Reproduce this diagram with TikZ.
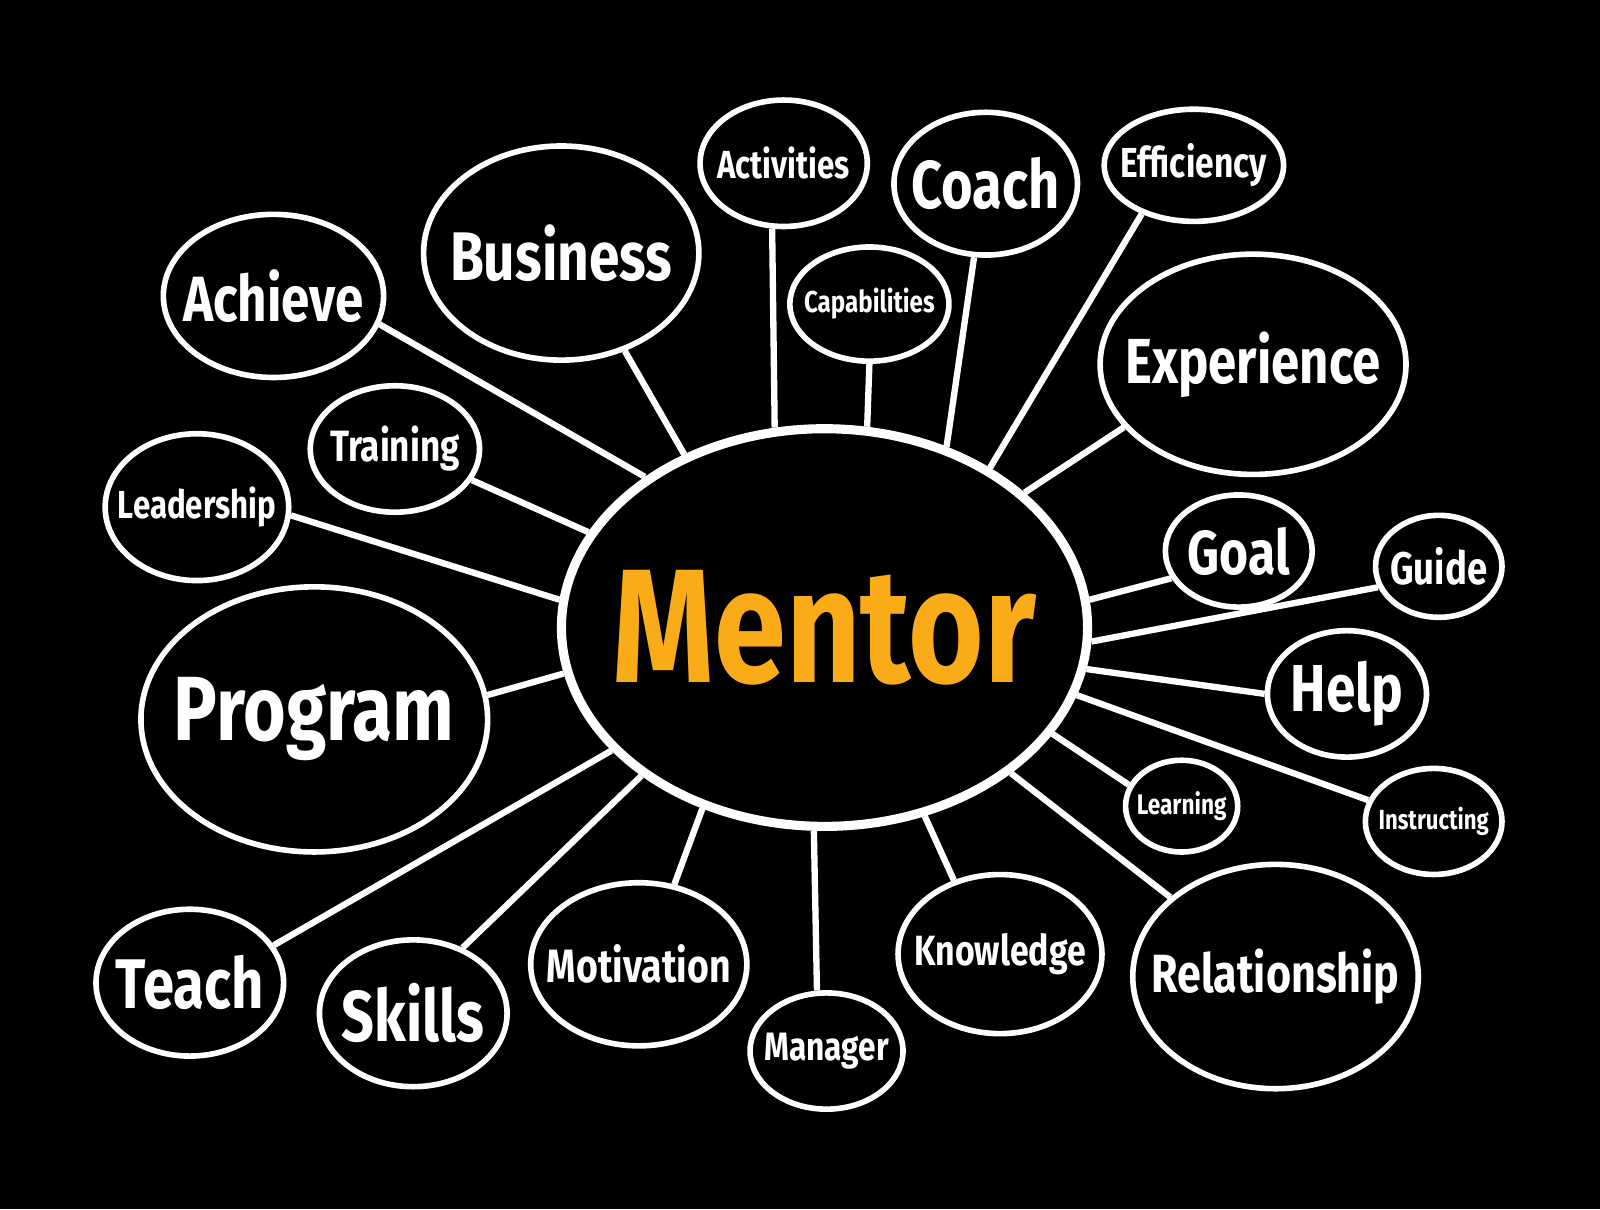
\documentclass[tikz,border=0pt]{standalone}
\usepackage{graphicx}
\usepackage{fontspec}
\setmainfont{Fira Sans}[FakeStretch=0.8]
\usetikzlibrary{shapes.geometric}
\newdimen\unitpx \unitpx=0.010204cm
\newcommand\mmtext[2]{\resizebox{#1\unitpx}{!}{#2}}
\definecolor{mentorc}{RGB}{250,172,24}
\begin{document}
\begin{tikzpicture}[x=0.010204cm, y=-0.010204cm,
  bub/.style n args={2}{ellipse, draw=white, line width=1.6pt,
    minimum width=#1*0.020408cm, minimum height=#2*0.020408cm,
    inner sep=0pt},
  lbl/.style={text=white, font=\bfseries, inner sep=0pt},
  link/.style={draw=white, line width=1.8pt}]
\fill[black] (0,0) rectangle (1568,1185);
\useasboundingbox (0,0) rectangle (1568,1185);

\node[bub={258}{195}, line width=2.6pt, label={[lbl, text=mentorc]center:\mmtext{415}{Mentor}}] (mentor) at (808,615) {};

\node[bub={108}{80}, label={[lbl]center:\mmtext{177}{Achieve}}] (achieve) at (268,290) {};
\node[bub={135}{105}, label={[lbl]center:\mmtext{218}{Business}}] (business) at (550,248) {};
\node[bub={82}{62}, label={[lbl]center:\mmtext{130}{Activities}}] (activities) at (768,160) {};
\node[bub={90}{70}, label={[lbl]center:\mmtext{145}{Coach}}] (coach) at (966,180) {};
\node[bub={88}{55}, label={[lbl]center:\mmtext{143}{Efficiency}}] (efficiency) at (1170,162) {};
\node[bub={78}{56}, label={[lbl]center:\mmtext{128}{Capabilities}}] (capabilities) at (852,298) {};
\node[bub={150}{108}, label={[lbl]center:\mmtext{250}{Experience}}] (experience) at (1228,357) {};
\node[bub={83}{62}, label={[lbl]center:\mmtext{127}{Training}}] (training) at (387,440) {};
\node[bub={90}{72}, label={[lbl]center:\mmtext{155}{Leadership}}] (leadership) at (193,497) {};
\node[bub={170}{130}, label={[lbl]center:\mmtext{275}{Program}}] (program) at (308,705) {};
\node[bub={72}{55}, label={[lbl]center:\mmtext{100}{Goal}}] (goal) at (1214,540) {};
\node[bub={62}{50}, label={[lbl]center:\mmtext{95}{Guide}}] (guide) at (1410,555) {};
\node[bub={78}{62}, label={[lbl]center:\mmtext{110}{Help}}] (help) at (1320,680) {};
\node[bub={55}{45}, label={[lbl]center:\mmtext{88}{Learning}}] (learning) at (1158,790) {};
\node[bub={67}{52}, label={[lbl]center:\mmtext{108}{Instructing}}] (instructing) at (1405,805) {};
\node[bub={92}{72}, label={[lbl]center:\mmtext{145}{Teach}}] (teach) at (186,963) {};
\node[bub={92}{72}, label={[lbl]center:\mmtext{140}{Skills}}] (skills) at (405,993) {};
\node[bub={106}{80}, label={[lbl]center:\mmtext{180}{Motivation}}] (motivation) at (626,945) {};
\node[bub={75}{57}, label={[lbl]center:\mmtext{122}{Manager}}] (manager) at (810,1030) {};
\node[bub={100}{78}, label={[lbl]center:\mmtext{168}{Knowledge}}] (knowledge) at (980,935) {};
\node[bub={140}{110}, label={[lbl]center:\mmtext{243}{Relationship}}] (relationship) at (1250,957) {};

\draw[link] (mentor.140.5) -- (achieve.-15);
\draw[link] (mentor.129.1) -- (business.-57.5);
\draw[link] (mentor.104.7) -- (activities.-100);
\draw[link] (mentor.78.5) -- (capabilities.-90);
\draw[link] (mentor.56.3) -- (coach.-99);
\draw[link] (mentor.44.3) -- (efficiency.-137.6);
\draw[link] (mentor.34.1) -- (experience.-154.1);
\draw[link] (mentor.6.6) -- (goal.-158.7);
\draw[link] (mentor.-3.7) -- (guide.-161.6);
\draw[link] (mentor.-9.6) -- (help.180);
\draw[link] (mentor.-15.6) -- (instructing.162.9);
\draw[link] (mentor.-25.9) -- (learning.158.2);
\draw[link] (mentor.-38) -- (relationship.143.7);
\draw[link] (mentor.-62.6) -- (knowledge.122.6);
\draw[link] (mentor.-93.8) -- (manager.99.5);
\draw[link] (mentor.-124.7) -- (motivation.66.6);
\draw[link] (mentor.-141.9) -- (skills.53.7);
\draw[link] (mentor.-150.7) -- (teach.24.3);
\draw[link] (mentor.-170.1) -- (program.8.3);
\draw[link] (mentor.174.4) -- (leadership.-5.1);
\draw[link] (mentor.158.6) -- (training.-22.3);
\end{tikzpicture}
\end{document}
